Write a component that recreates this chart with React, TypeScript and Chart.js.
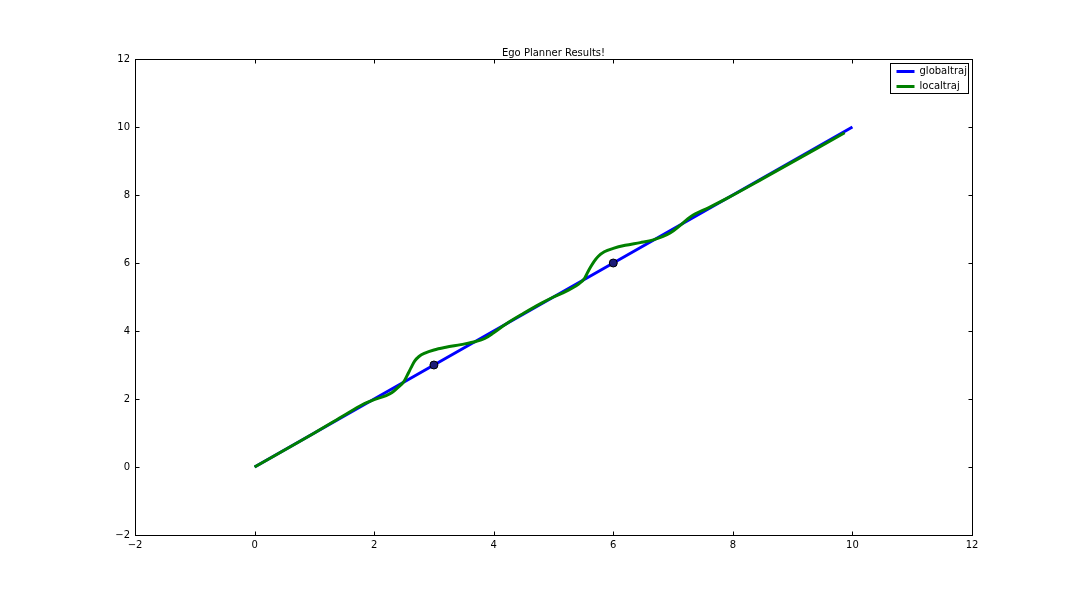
import React, { useEffect, useRef } from "react";
import { Chart, registerables } from "chart.js";

Chart.register(...registerables);

const titleText = "Ego Planner Results!";
const seriesLabels = ["globaltraj", "localtraj"];
const axisTicks = [-2, 0, 2, 4, 6, 8, 10, 12];

const globalX = [0, 3, 6, 10];
const globalY = [0, 3, 6, 10];

const waypointX = [3, 6];
const waypointY = [3, 6];

const localX = [0, 1, 1.5, 1.8, 2.0, 2.2, 2.3, 2.4, 2.5, 2.56, 2.62, 2.68, 2.75, 2.85, 3.0, 3.2, 3.45, 3.7, 3.85, 4.0, 4.2, 4.5, 4.8, 5.0, 5.2, 5.3, 5.42, 5.52, 5.57, 5.62, 5.68, 5.75, 5.85, 6.0, 6.2, 6.45, 6.67, 6.8, 6.95, 7.1, 7.3, 7.6, 7.9, 8.5, 9.87];
const localY = [0, 1, 1.52, 1.83, 1.98, 2.1, 2.19, 2.34, 2.52, 2.72, 2.93, 3.12, 3.25, 3.35, 3.44, 3.52, 3.6, 3.69, 3.78, 3.95, 4.2, 4.52, 4.82, 5.0, 5.16, 5.25, 5.38, 5.55, 5.72, 5.88, 6.05, 6.2, 6.33, 6.43, 6.52, 6.6, 6.68, 6.76, 6.88, 7.08, 7.37, 7.63, 7.9, 8.48, 9.83];

const FONT = "'DejaVu Sans', sans-serif";

const fmt = (v: number) => (v < 0 ? "\u2212" + Math.abs(v) : String(v));

const framePlugin = {
  id: "frameTicksLegend",
  afterDraw(chart: any) {
    const { ctx, chartArea } = chart;
    const { left, right, top, bottom } = chartArea;
    const xs = chart.scales.x;
    const ys = chart.scales.y;
    ctx.save();
    ctx.strokeStyle = "#000";
    ctx.lineWidth = 1;
    const L = Math.round(left) + 0.5;
    const R = Math.round(right) + 0.5;
    const T = Math.round(top) + 0.5;
    const B = Math.round(bottom) + 0.5;
    ctx.strokeRect(L, T, R - L, B - T);
    ctx.beginPath();
    axisTicks.forEach((v) => {
      const px = Math.round(xs.getPixelForValue(v)) + 0.5;
      ctx.moveTo(px, B);
      ctx.lineTo(px, B - 4);
      ctx.moveTo(px, T);
      ctx.lineTo(px, T + 4);
      const py = Math.round(ys.getPixelForValue(v)) + 0.5;
      ctx.moveTo(L, py);
      ctx.lineTo(L + 4, py);
      ctx.moveTo(R, py);
      ctx.lineTo(R - 4, py);
    });
    ctx.stroke();

    // legend
    const ds = chart.data.datasets;
    const boxW = 78;
    const boxH = 30;
    const bx = Math.round(right) - 4 - boxW + 0.5;
    const by = Math.round(top) + 4 + 0.5;
    ctx.fillStyle = "#fff";
    ctx.fillRect(bx, by, boxW, boxH);
    ctx.strokeStyle = "#000";
    ctx.lineWidth = 1;
    ctx.strokeRect(bx, by, boxW, boxH);
    ctx.font = "10px " + FONT;
    ctx.textBaseline = "middle";
    ctx.textAlign = "left";
    [0, 1].forEach((i) => {
      const yy = by + 8 + i * 15;
      ctx.strokeStyle = ds[i].borderColor;
      ctx.lineWidth = 3;
      ctx.beginPath();
      ctx.moveTo(bx + 6, yy);
      ctx.lineTo(bx + 24, yy);
      ctx.stroke();
      ctx.fillStyle = "#000";
      ctx.fillText(ds[i].label, bx + 29, yy);
    });
    ctx.restore();
  },
};

export default function App() {
  const ref = useRef<HTMLCanvasElement | null>(null);

  useEffect(() => {
    document.body.style.margin = "0";
    const canvas = ref.current;
    if (!canvas) return;
    const chart = new Chart(canvas, {
      type: "scatter",
      data: {
        datasets: [
          {
            label: seriesLabels[0],
            data: globalX.map((x, i) => ({ x, y: globalY[i] })),
            showLine: true,
            borderColor: "#0000ff",
            backgroundColor: "#0000ff",
            borderWidth: 3,
            pointRadius: 0,
            order: 2,
          },
          {
            label: seriesLabels[1],
            data: localX.map((x, i) => ({ x, y: localY[i] })),
            showLine: true,
            borderColor: "#008000",
            backgroundColor: "#008000",
            borderWidth: 3,
            pointRadius: 0,
            cubicInterpolationMode: "monotone",
            order: 1,
          },
          {
            label: "waypoints",
            data: waypointX.map((x, i) => ({ x, y: waypointY[i] })),
            showLine: false,
            pointRadius: 4,
            pointBackgroundColor: "#1c1c78",
            pointBorderColor: "#000",
            pointBorderWidth: 1,
            order: 0,
          },
        ],
      } as any,
      options: {
        animation: false,
        responsive: false,
        maintainAspectRatio: false,
        layout: { padding: { left: 0, right: 108, top: 0, bottom: 0 } },
        plugins: {
          legend: { display: false },
          tooltip: { enabled: false },
          title: {
            display: true,
            text: titleText,
            fullSize: false,
            color: "#000",
            font: { family: FONT, size: 10, weight: "normal" },
            padding: { top: 47, bottom: 0 },
          },
        },
        scales: {
          x: {
            type: "linear",
            min: -2,
            max: 12,
            afterBuildTicks: (s: any) => {
              s.ticks = axisTicks.map((v) => ({ value: v }));
            },
            afterFit: (s: any) => {
              s.height = 60;
            },
            grid: { display: false, drawTicks: false },
            border: { display: false },
            ticks: {
              color: "#000",
              padding: 4,
              maxRotation: 0,
              font: { family: FONT, size: 10 },
              callback: (v: any) => fmt(Number(v)),
            },
          },
          y: {
            type: "linear",
            min: -2,
            max: 12,
            afterBuildTicks: (s: any) => {
              s.ticks = axisTicks.map((v) => ({ value: v }));
            },
            afterFit: (s: any) => {
              s.width = 135;
            },
            grid: { display: false, drawTicks: false },
            border: { display: false },
            ticks: {
              color: "#000",
              padding: 5,
              font: { family: FONT, size: 10 },
              callback: (v: any) => fmt(Number(v)),
            },
          },
        },
      } as any,
      plugins: [framePlugin],
    });
    return () => chart.destroy();
  }, []);

  return (
    <div style={{ width: 1080, height: 595, background: "#fff" }}>
      <canvas ref={ref} width={1080} height={595} style={{ display: "block" }} />
    </div>
  );
}
